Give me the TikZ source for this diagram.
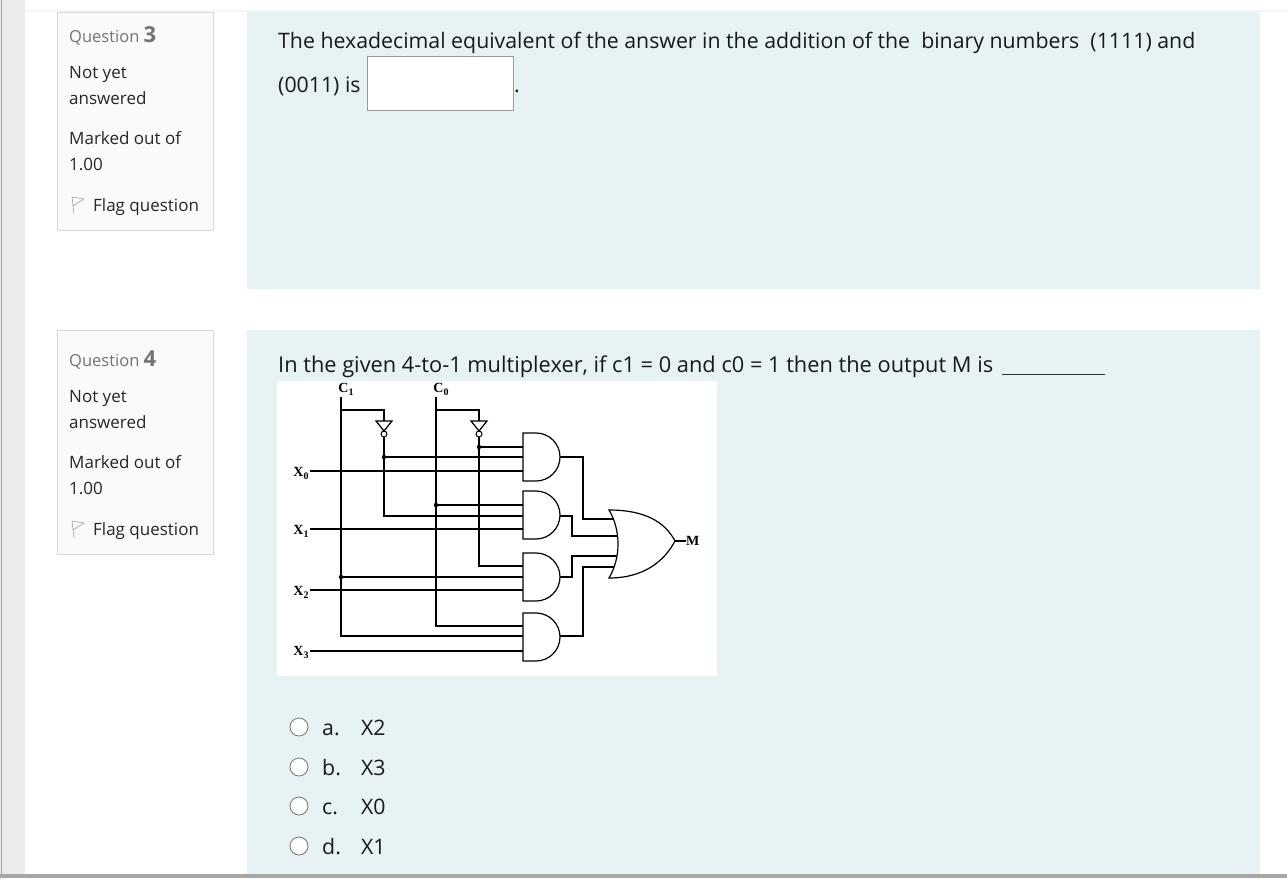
\documentclass[tikz,border=0pt]{standalone}
\usepackage{fontspec}
\setmainfont{Open Sans}
\newfontfamily\circfont{Liberation Serif}
\definecolor{qbg}{RGB}{231,242,245}
\newcommand{\csub}[1]{\raisebox{-3pt}{\fontsize{10}{10}\selectfont #1}}
\begin{document}
\begin{tikzpicture}[x=1pt,y=-1pt,
  side/.style={anchor=base west,inner sep=0,font=\fontsize{17}{18}\selectfont,text=black!85},
  qlab/.style={anchor=base west,inner sep=0,font=\fontsize{16.5}{18}\selectfont,text=black!55},
  main/.style={anchor=base west,inner sep=0,font=\fontsize{21.3}{22}\selectfont,text=black!90},
  wire/.style={line width=1.1pt},
  gate/.style={line width=1.2pt,fill=white},
  clab/.style={inner sep=0,font=\circfont\bfseries\fontsize{14}{15}\selectfont}]
\useasboundingbox (0,0) rectangle (1287,878);
\fill[white] (0,0) rectangle (1287,878);
\fill[black!8] (0,0) rectangle (25,878);
\draw[black!35] (1,0) -- (1,878);
\fill[black!4] (25,10) rectangle (1287,12);
\fill[black!35] (0,874) rectangle (1287,878);
% Q3
\draw[black!15,fill=black!2] (57,12) rectangle (213,230);
\node[qlab] (q3) at (69,42) {Question \textbf{\fontsize{22}{22}\selectfont 3}};
\node[side] (q3a) at (69,78) {Not yet};
\node[side] (q3b) at (69,104) {answered};
\node[side] (q3c) at (69,144) {Marked out of};
\node[side] (q3d) at (69,170) {1.00};
\node[side] (q3f) at (93,211) {Flag question};
\draw[black!50,line join=round] (74,214) -- (72,197) -- (84,199) -- (73,206);
\fill[qbg] (247,12) rectangle (1260,289);
\node[main] (t3) at (278,48) {The hexadecimal equivalent of the answer in the addition of the\ \ binary numbers\ \ (1111) and};
\node[main] (t3b) at (278,92) {(0011) is};
\draw[black!40,fill=white] (367,56) rectangle (513,110);
\node[main] at (514,92) {.};
% Q4
\draw[black!15,fill=black!2] (57,330) rectangle (213,554);
\node[qlab] (q4) at (69,366) {Question \textbf{\fontsize{22}{22}\selectfont 4}};
\node[side] at (69,402) {Not yet};
\node[side] at (69,428) {answered};
\node[side] at (69,468) {Marked out of};
\node[side] at (69,494) {1.00};
\node[side] at (93,535) {Flag question};
\draw[black!50,line join=round] (74,538) -- (72,521) -- (84,523) -- (73,530);
\fill[qbg] (247,330) rectangle (1260,874);
\node[main,font=\fontsize{21.8}{22}\selectfont] (t4) at (278,372) {In the given 4-to-1 multiplexer, if c1 = 0 and c0 = 1 then the output M is};
\draw[black!80] (1002,374) -- (1105,374);
\fill[white] (277,381) rectangle (717,676);
% circuit
\node[clab] at (346,389) {C\csub{1}};
\node[clab] at (441,389) {C\csub{0}};
\node[clab] at (301,473) {X\csub{0}};
\node[clab] at (301,531) {X\csub{1}};
\node[clab] at (301,592) {X\csub{2}};
\node[clab] at (301,652) {X\csub{3}};
\node[clab,anchor=west] at (686,541) {M};
\begin{scope}[wire]
\draw (341,397) -- (341,636) -- (523,636);
\draw (341,410) -- (384,410) -- (384,421);
\draw (384,437) -- (384,516) -- (523,516);
\draw (384,457) -- (523,457);
\draw (341,577) -- (523,577);
\draw (436,397) -- (436,626) -- (523,626);
\draw (436,410) -- (479,410) -- (479,421);
\draw (479,437) -- (479,566) -- (523,566);
\draw (479,447) -- (523,447);
\draw (436,505) -- (523,505);
\draw (310,471) -- (523,471);
\draw (310,529) -- (523,529);
\draw (310,590) -- (523,590);
\draw (310,651) -- (523,651);
\draw (559,457) -- (583,457) -- (583,519) -- (616,519);
\draw (559,516) -- (572,516) -- (572,536) -- (617,536);
\draw (559,577) -- (572,577) -- (572,556) -- (617,556);
\draw (559,636) -- (583,636) -- (583,567) -- (616,567);
\draw (675,541) -- (686,541);
\end{scope}
\foreach \p in {(384,457),(479,447),(436,505),(341,577)} \fill \p circle (2.2);
\foreach \y in {433,491,553,613}
  \draw[gate] (523,\y) -- (536,\y) arc(-90:90:24) -- (523,\y+48) -- cycle;
\foreach \x in {384,479}{
  \draw[gate] (\x-8,421) -- (\x+8,421) -- (\x,431) -- cycle;
  \draw[gate,line width=1pt] (\x,434) circle (3);}
\draw[gate] (609,510) .. controls (621,530) and (621,558) .. (609,578)
  .. controls (645,578) and (665,560) .. (675,541)
  .. controls (665,522) and (645,510) .. (609,510) -- cycle;
% options
\foreach \y/\l/\v in {727/a./X2,767/b./X3,806/c./X0,846/d./X1}{
  \draw[black!55,line width=0.8pt,fill=white] (299,\y) circle (9);
  \node[main] at (322,\y+8) {\l};
  \node[main] at (361,\y+8) {\v};}
\end{tikzpicture}
\end{document}
